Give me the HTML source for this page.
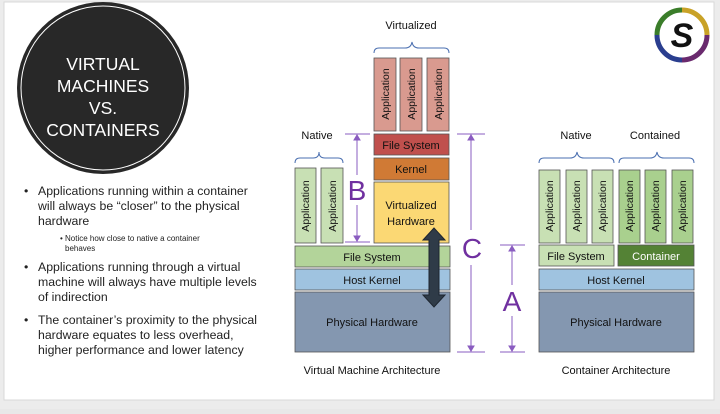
<!DOCTYPE html><html><head><style>
body{margin:0;width:720px;height:409px;overflow:hidden;background:#e8e8e8;font-family:"Liberation Sans",sans-serif}
</style></head><body>
<svg width="720" height="409" xmlns="http://www.w3.org/2000/svg" font-family="Liberation Sans, sans-serif">
<rect x="0" y="0" width="720" height="409" fill="#ececec"/>
<rect x="4" y="2" width="710" height="398" fill="#fff" stroke="#d8d8d8"/>
<circle cx="103" cy="88" r="86" fill="#282828"/>
<circle cx="103" cy="88" r="82" fill="none" stroke="#fff" stroke-width="1"/>
<g fill="#fff" font-size="17.5" text-anchor="middle">
<text x="103" y="70">VIRTUAL</text><text x="103" y="92">MACHINES</text><text x="103" y="114">VS.</text><text x="103" y="136">CONTAINERS</text></g>
<g font-size="12.3" fill="#222">
<text x="24" y="195">•</text><text x="38" y="195">Applications running within a container</text>
<text x="38" y="210">will always be “closer” to the physical</text><text x="38" y="225">hardware</text>
<text x="60" y="241" font-size="8">•</text><text x="65" y="241" font-size="8">Notice how close to native a container</text><text x="65" y="251" font-size="8">behaves</text>
<text x="24" y="271">•</text><text x="38" y="271">Applications running through a virtual</text>
<text x="38" y="286">machine will always have multiple levels</text><text x="38" y="301">of indirection</text>
<text x="24" y="324">•</text><text x="38" y="324">The container’s proximity to the physical</text>
<text x="38" y="339">hardware equates to less overhead,</text><text x="38" y="354">higher performance and lower latency</text>
</g>
<g stroke="#555" stroke-width="0.8">
<rect x="374" y="58" width="22" height="73" fill="#d99a8f"/><rect x="400" y="58" width="22" height="73" fill="#d99a8f"/><rect x="427" y="58" width="22" height="73" fill="#d99a8f"/>
<rect x="374" y="134" width="75" height="21" fill="#c0504d"/>
<rect x="374" y="158" width="75" height="22" fill="#d07a35"/>
<rect x="374" y="182" width="75" height="61" fill="#fbd874"/>
<rect x="295" y="168" width="21" height="75" fill="#c8e0b4"/><rect x="321" y="168" width="22" height="75" fill="#c8e0b4"/>
<rect x="295" y="246" width="155" height="21" fill="#b3d49a"/>
<rect x="295" y="269" width="155" height="21" fill="#9fc3e0"/>
<rect x="295" y="292" width="155" height="60" fill="#8497b0"/>
<rect x="539" y="170" width="21" height="73" fill="#c8e0b4"/><rect x="566" y="170" width="21" height="73" fill="#c8e0b4"/><rect x="592" y="170" width="21" height="73" fill="#c8e0b4"/>
<rect x="619" y="170" width="21" height="73" fill="#a9d08e"/><rect x="645" y="170" width="21" height="73" fill="#a9d08e"/><rect x="672" y="170" width="21" height="73" fill="#a9d08e"/>
<rect x="539" y="245" width="75" height="21" fill="#c8e0b4"/>
<rect x="618" y="245" width="76" height="21" fill="#548235"/>
<rect x="539" y="269" width="155" height="21" fill="#9fc3e0"/>
<rect x="539" y="292" width="155" height="60" fill="#8497b0"/>
</g>
<g font-size="11" fill="#111" text-anchor="middle">
<g font-size="10.5">
<text transform="translate(389,94) rotate(-90)">Application</text><text transform="translate(415,94) rotate(-90)">Application</text><text transform="translate(442,94) rotate(-90)">Application</text>
<text transform="translate(309,206) rotate(-90)">Application</text><text transform="translate(336,206) rotate(-90)">Application</text>
<text transform="translate(553,206) rotate(-90)">Application</text><text transform="translate(580,206) rotate(-90)">Application</text><text transform="translate(606,206) rotate(-90)">Application</text>
<text transform="translate(633,206) rotate(-90)">Application</text><text transform="translate(659,206) rotate(-90)">Application</text><text transform="translate(686,206) rotate(-90)">Application</text>
</g>
<text x="411" y="149">File System</text><text x="411" y="173">Kernel</text>
<text x="411" y="209">Virtualized</text><text x="411" y="225">Hardware</text>
<text x="372" y="261">File System</text><text x="372" y="284">Host Kernel</text><text x="372" y="326">Physical Hardware</text>
<text x="576" y="260">File System</text><text x="656" y="260" fill="#fff">Container</text>
<text x="616" y="284">Host Kernel</text><text x="616" y="326">Physical Hardware</text>
<text x="411" y="29">Virtualized</text><text x="317" y="139">Native</text>
<text x="576" y="139">Native</text><text x="655" y="139">Contained</text>
<text x="372" y="374">Virtual Machine Architecture</text><text x="616" y="374">Container Architecture</text>
</g>
<g fill="none" stroke="#4a6fb0" stroke-width="1">
<path d="M374,53 q0,-5 5,-5 h26 q6,0 7,-6 q1,6 7,6 h25 q5,0 5,5"/>
<path d="M295,163 q0,-5 5,-5 h13 q6,0 6,-6 q0,6 6,6 h13 q5,0 5,5"/>
<path d="M539,163 q0,-5 5,-5 h26 q6,0 7,-6 q1,6 7,6 h25 q5,0 5,5"/>
<path d="M619,163 q0,-5 5,-5 h26 q6,0 7,-6 q1,6 7,6 h25 q5,0 5,5"/>
</g>
<g stroke="#8a5cc0" stroke-width="1" fill="#8a5cc0">
<line x1="345" y1="134" x2="370" y2="134"/><line x1="345" y1="242" x2="370" y2="242"/>
<line x1="357" y1="136" x2="357" y2="175"/><line x1="357" y1="205" x2="357" y2="240"/>
<line x1="457" y1="134" x2="485" y2="134"/><line x1="457" y1="352" x2="485" y2="352"/>
<line x1="471" y1="136" x2="471" y2="230"/><line x1="471" y1="265" x2="471" y2="350"/>
<line x1="500" y1="245" x2="525" y2="245"/><line x1="500" y1="352" x2="525" y2="352"/>
<line x1="512" y1="247" x2="512" y2="285"/><line x1="512" y1="316" x2="512" y2="350"/>
<path d="M354,140 l3,-5 l3,5z M354,236 l3,5 l3,-5z M468,140 l3,-5 l3,5z M468,346 l3,5 l3,-5z M509,251 l3,-5 l3,5z M509,346 l3,5 l3,-5z"/>
</g>
<g fill="#7030a0" font-size="28" text-anchor="middle">
<text x="357" y="200">B</text><text x="472" y="258">C</text><text x="512" y="311">A</text></g>
<path d="M434,228 l-11,12 h6 v55 h-6 l11,12 l11,-12 h-6 v-55 h6z" fill="#2f3b48" stroke="#1e2630"/>
<g fill="none" stroke-width="5">
<path d="M657,35 A25,25 0 0 1 682,10" stroke="#3a7d2a"/>
<path d="M682,10 A25,25 0 0 1 707,35" stroke="#c9a227"/>
<path d="M707,35 A25,25 0 0 1 682,60" stroke="#6a2a6e"/>
<path d="M682,60 A25,25 0 0 1 657,35" stroke="#2a3e8f"/>
</g>
<text x="682" y="47" font-size="34" font-weight="bold" font-style="italic" text-anchor="middle" fill="#111">S</text>
</svg>
</body></html>
